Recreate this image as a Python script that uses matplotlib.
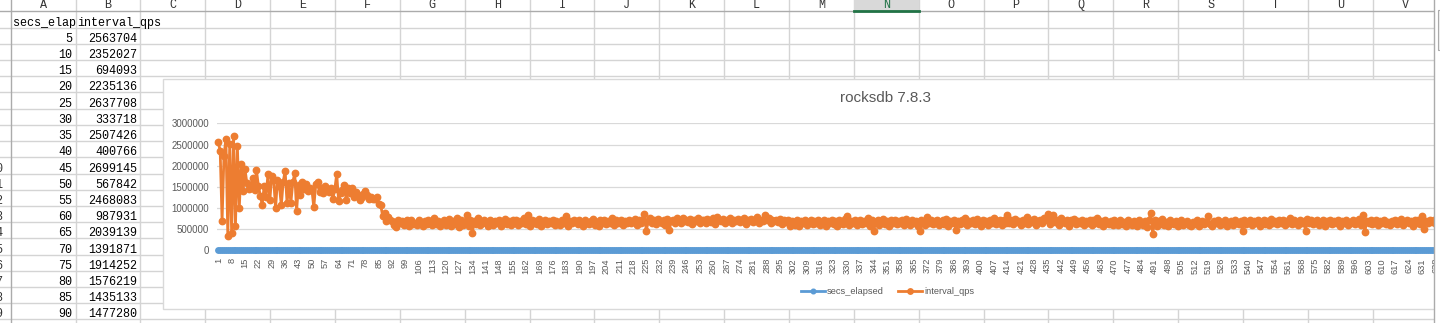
import matplotlib
matplotlib.use("Agg")
import matplotlib.pyplot as plt
from matplotlib.patches import Rectangle

W, H = 1440, 323

# column A of the sheet (secs_elapsed)
secs_elapsed = [
    5, 10, 15, 20, 25, 30, 35, 40, 45, 50, 55, 60, 65, 70, 75, 80, 85, 90, 95, 100,
    105, 110, 115, 120, 125, 130, 135, 140, 145, 150, 155, 160, 165, 170, 175, 180, 185, 190, 195, 200,
    205, 210, 215, 220, 225, 230, 235, 240, 245, 250, 255, 260, 265, 270, 275, 280, 285, 290, 295, 300,
    305, 310, 315, 320, 325, 330, 335, 340, 345, 350, 355, 360, 365, 370, 375, 380, 385, 390, 395, 400,
    405, 410, 415, 420, 425, 430, 435, 440, 445, 450, 455, 460, 465, 470, 475, 480, 485, 490, 495, 500,
    505, 510, 515, 520, 525, 530, 535, 540, 545, 550, 555, 560, 565, 570, 575, 580, 585, 590, 595, 600,
    605, 610, 615, 620, 625, 630, 635, 640, 645, 650, 655, 660, 665, 670, 675, 680, 685, 690, 695, 700,
    705, 710, 715, 720, 725, 730, 735, 740, 745, 750, 755, 760, 765, 770, 775, 780, 785, 790, 795, 800,
    805, 810, 815, 820, 825, 830, 835, 840, 845, 850, 855, 860, 865, 870, 875, 880, 885, 890, 895, 900,
    905, 910, 915, 920, 925, 930, 935, 940, 945, 950, 955, 960, 965, 970, 975, 980, 985, 990, 995, 1000,
    1005, 1010, 1015, 1020, 1025, 1030, 1035, 1040, 1045, 1050, 1055, 1060, 1065, 1070, 1075, 1080, 1085, 1090, 1095, 1100,
    1105, 1110, 1115, 1120, 1125, 1130, 1135, 1140, 1145, 1150, 1155, 1160, 1165, 1170, 1175, 1180, 1185, 1190, 1195, 1200,
    1205, 1210, 1215, 1220, 1225, 1230, 1235, 1240, 1245, 1250, 1255, 1260, 1265, 1270, 1275, 1280, 1285, 1290, 1295, 1300,
    1305, 1310, 1315, 1320, 1325, 1330, 1335, 1340, 1345, 1350, 1355, 1360, 1365, 1370, 1375, 1380, 1385, 1390, 1395, 1400,
    1405, 1410, 1415, 1420, 1425, 1430, 1435, 1440, 1445, 1450, 1455, 1460, 1465, 1470, 1475, 1480, 1485, 1490, 1495, 1500,
    1505, 1510, 1515, 1520, 1525, 1530, 1535, 1540, 1545, 1550, 1555, 1560, 1565, 1570, 1575, 1580, 1585, 1590, 1595, 1600,
    1605, 1610, 1615, 1620, 1625, 1630, 1635, 1640, 1645, 1650, 1655, 1660, 1665, 1670, 1675, 1680, 1685, 1690, 1695, 1700,
    1705, 1710, 1715, 1720, 1725, 1730, 1735, 1740, 1745, 1750, 1755, 1760, 1765, 1770, 1775, 1780, 1785, 1790, 1795, 1800,
    1805, 1810, 1815, 1820, 1825, 1830, 1835, 1840, 1845, 1850, 1855, 1860, 1865, 1870, 1875, 1880, 1885, 1890, 1895, 1900,
    1905, 1910, 1915, 1920, 1925, 1930, 1935, 1940, 1945, 1950, 1955, 1960, 1965, 1970, 1975, 1980, 1985, 1990, 1995, 2000,
    2005, 2010, 2015, 2020, 2025, 2030, 2035, 2040, 2045, 2050, 2055, 2060, 2065, 2070, 2075, 2080, 2085, 2090, 2095, 2100,
    2105, 2110, 2115, 2120, 2125, 2130, 2135, 2140, 2145, 2150, 2155, 2160, 2165, 2170, 2175, 2180, 2185, 2190, 2195, 2200,
    2205, 2210, 2215, 2220, 2225, 2230, 2235, 2240, 2245, 2250, 2255, 2260, 2265, 2270, 2275, 2280, 2285, 2290, 2295, 2300,
    2305, 2310, 2315, 2320, 2325, 2330, 2335, 2340, 2345, 2350, 2355, 2360, 2365, 2370, 2375, 2380, 2385, 2390, 2395, 2400,
    2405, 2410, 2415, 2420, 2425, 2430, 2435, 2440, 2445, 2450, 2455, 2460, 2465, 2470, 2475, 2480, 2485, 2490, 2495, 2500,
    2505, 2510, 2515, 2520, 2525, 2530, 2535, 2540, 2545, 2550, 2555, 2560, 2565, 2570, 2575, 2580, 2585, 2590, 2595, 2600,
    2605, 2610, 2615, 2620, 2625, 2630, 2635, 2640, 2645, 2650, 2655, 2660, 2665, 2670, 2675, 2680, 2685, 2690, 2695, 2700,
    2705, 2710, 2715, 2720, 2725, 2730, 2735, 2740, 2745, 2750, 2755, 2760, 2765, 2770, 2775, 2780, 2785, 2790, 2795, 2800,
    2805, 2810, 2815, 2820, 2825, 2830, 2835, 2840, 2845, 2850, 2855, 2860, 2865, 2870, 2875, 2880, 2885, 2890, 2895, 2900,
    2905, 2910, 2915, 2920, 2925, 2930, 2935, 2940, 2945, 2950, 2955, 2960, 2965, 2970, 2975, 2980, 2985, 2990, 2995, 3000,
    3005, 3010, 3015, 3020, 3025, 3030, 3035, 3040, 3045, 3050, 3055, 3060, 3065, 3070, 3075, 3080, 3085, 3090, 3095, 3100,
    3105, 3110, 3115, 3120, 3125, 3130, 3135, 3140, 3145, 3150, 3155, 3160, 3165, 3170, 3175, 3180, 3185, 3190, 3195, 3200,
]

# column B, rows visible in the sheet
qps_table = [2563704, 2352027, 694093, 2235136, 2637708, 333718, 2507426, 400766, 2699145,
             567842, 2468083, 987931, 2039139, 1391871, 1914252, 1576219, 1435133, 1477280]

# rest of interval_qps (thousands)
qps_rest_k = [
    1700, 1420, 1890, 1520, 1290, 1070, 1510, 1260, 1790, 1180, 1760, 1660, 990, 1670, 1510, 1060, 1620,
    1880, 1110, 1580, 1120, 1600, 1820, 930, 1550, 1300, 1600, 1440, 1560, 1400, 1480, 1430, 1010, 1560,
    1600, 1380, 1470, 1350, 1510, 1440, 1380, 1470, 1210, 1450, 1800, 1150, 1350, 1410, 1540, 1180, 1460,
    1340, 1460, 1260, 1380, 1310, 1180, 1250, 1320, 1390, 1300, 1220, 1250, 1200, 1210, 1260, 1080, 1070,
    810, 880, 690, 790, 720, 680, 590, 540, 700,
    640, 690, 600, 660, 720, 580, 700, 620, 650, 590, 710, 640, 560, 680, 620, 700, 650, 600, 760, 620,
    690, 580, 640, 700, 600, 660, 730, 560, 680, 620, 760, 540, 700, 600, 650, 820, 560, 720, 410, 680,
    620, 760, 590, 650, 700, 630, 580, 720, 660, 600, 690, 640, 710, 570, 650, 740, 620, 680, 600, 700,
    650, 720, 590, 680, 630, 760, 610, 830, 560, 700, 640, 690, 620, 740, 580, 660, 700, 620, 690, 640,
    710, 600, 680, 650, 590, 720, 640, 800, 560, 690, 630, 700, 660, 610, 720, 640, 580, 700, 650, 620,
    690, 740, 600, 660, 560, 700, 640, 720, 610, 680, 650, 760, 590, 700, 640, 670, 720, 600, 690, 650,
    710, 630, 680, 740, 600, 700, 650, 720, 860, 450, 690, 760, 640, 700, 620, 740, 680, 650, 710, 600,
    730, 470, 680, 720, 650, 760, 700, 640, 750, 690, 720, 660, 740, 610, 700, 680, 760, 650, 720, 700,
    640, 730, 690, 660, 750, 620, 790, 700, 680, 740, 650, 720, 690, 760, 640, 710, 680, 730, 660, 700,
    750, 620, 720, 690, 740, 660, 700, 780, 640, 720, 690, 830, 700, 750, 640, 720, 680, 700, 660, 740,
    620, 700, 660, 720, 580, 690, 650, 600, 710, 560, 680, 640, 700, 590, 660, 720, 610, 680, 640, 700,
    600, 670, 720, 580, 690, 640, 700, 620, 680, 560, 700, 650, 620, 740, 810, 600, 680, 640, 700, 590,
    660, 720, 610, 690, 640, 760, 580, 700, 450, 660, 720, 600, 680, 740, 620, 690, 560, 700, 650, 720,
    610, 680, 640, 700, 590, 730, 650, 600, 700, 640, 690, 560, 460, 720, 650, 600, 790, 640, 700, 620,
    680, 720, 590, 660, 700, 620, 740, 580, 690, 650, 720, 470, 680, 620, 700, 650, 760, 600, 690, 640,
    700, 620, 740, 660, 580, 720, 640, 690, 600, 710, 650, 760, 620, 680, 700, 590, 720, 650, 830, 640,
    700, 620, 740, 660, 690, 600, 720, 650, 780, 610, 700, 660, 740, 590, 680, 720, 640, 760, 700, 860,
    620, 700, 840, 660, 720, 600, 760, 680, 640, 720, 580, 700, 660, 740, 620, 690, 640, 710, 600, 680,
    650, 720, 590, 700, 640, 760, 620, 680, 560, 700, 650, 620, 690, 600, 720, 640, 590, 700, 620, 660,
    580, 700, 640, 600, 680, 620, 560, 700, 650, 600, 680, 540, 720, 880, 380, 700, 560, 680, 620, 740,
    600, 660, 580, 700, 640, 620, 680, 560, 650, 700, 590, 640, 680, 600, 560, 660, 620, 700, 580, 640,
    690, 610, 660, 800, 620, 580, 680, 640, 700, 600, 660, 620, 700, 580, 650, 690, 600, 720, 640, 610,
    680, 440, 700, 620, 660, 720, 600, 680, 640, 700, 580, 660, 720, 620, 680, 600, 740, 640, 690, 610,
    700, 650, 720, 600, 680, 640, 760, 620, 700, 660, 590, 720, 640, 680, 450, 740, 650, 700, 620, 680,
    720, 600, 660, 700, 580, 690, 640, 720, 610, 680, 650, 700, 560, 680, 640, 720, 600, 670, 640, 700,
    620, 680, 740, 600, 830, 420, 690, 640, 700, 620, 660, 720, 590, 680, 640, 700, 620, 660, 600, 690,
    650, 700, 620, 680, 740, 600, 660, 720, 640, 690, 580, 700, 650, 720, 610, 800, 500, 690, 640, 700,
    660, 720, 620, 690, 650,
]

interval_qps = qps_table + [v * 1000 for v in qps_rest_k]
n = min(len(secs_elapsed), len(interval_qps))
secs_elapsed = secs_elapsed[:n]
interval_qps = interval_qps[:n]
categories = list(range(1, n + 1))

col_letters = list("ABCDEFGHIJKLMNOPQRSTUV")
y_ticks = [0, 500000, 1000000, 1500000, 2000000, 2500000, 3000000]
title = "rocksdb 7.8.3"

BLUE = "#5B9BD5"
ORANGE = "#ED7D31"
TXT = "#595959"
GRID = "#D4D4D4"
SANS = ["Liberation Sans", "DejaVu Sans"]
MONO = ["Liberation Mono", "DejaVu Sans Mono"]

# sheet geometry (pixels)
col_x0, col_w = 10.7, 64.86
hdr_bot, row_h = 11.3, 16.22

fig = plt.figure(figsize=(W / 100, H / 100), dpi=100)
fig.patch.set_facecolor("white")

bg = fig.add_axes([0, 0, 1, 1])
bg.set_xlim(0, W)
bg.set_ylim(H, 0)
bg.axis("off")

# grid of cells
for k in range(1, len(col_letters) + 1):
    x = col_x0 + col_w * k
    bg.plot([x, x], [0, H], color=GRID, lw=1, zorder=1)
for r in range(1, 20):
    y = hdr_bot + row_h * r
    bg.plot([0, 1434], [y, y], color=GRID, lw=1, zorder=1)
bg.plot([0, 1434], [hdr_bot, hdr_bot], color="#ABABAB", lw=1, zorder=2)
bg.plot([col_x0, col_x0], [0, H], color="#ABABAB", lw=1, zorder=2)

# column headers
sel = col_letters.index("N")
bg.add_patch(Rectangle((col_x0 + col_w * sel, 0), col_w, hdr_bot, fc="#D9D9D9", ec="none", zorder=1.5))
bg.plot([col_x0 + col_w * sel, col_x0 + col_w * (sel + 1)], [hdr_bot - 0.5, hdr_bot - 0.5],
        color="#217346", lw=2, zorder=3)
for i, c in enumerate(col_letters):
    bg.text(col_x0 + col_w * (i + 0.5), 8.3, c, ha="center", va="baseline", fontsize=8.5,
            family=MONO, color="#217346" if i == sel else "#333333", zorder=3)

# row numbers (mostly hidden left of the window)
for r in range(1, 20):
    base = hdr_bot + row_h * r - 2
    bg.text(-4, base, str(r), ha="center", va="baseline", fontsize=8.5, family=MONO, color="#333333")

# cell contents
base1 = hdr_bot + row_h - 2
t = bg.text(col_x0 + 1.8, base1, "secs_elapsed", ha="left", va="baseline", fontsize=8.5,
            family=MONO, color="black", zorder=3, clip_on=True)
t.set_clip_path(Rectangle((col_x0, hdr_bot), col_w, row_h, transform=bg.transData))
bg.text(col_x0 + col_w + 1.2, base1, "interval_qps", ha="left", va="baseline", fontsize=8.5,
        family=MONO, color="black", zorder=3)
for r in range(len(qps_table)):
    base = hdr_bot + row_h * (r + 2) - 2
    bg.text(col_x0 + col_w - 3, base, str(secs_elapsed[r]), ha="right", va="baseline",
            fontsize=8.5, family=MONO, color="black", zorder=3)
    bg.text(col_x0 + 2 * col_w - 3.3, base, str(qps_table[r]), ha="right", va="baseline",
            fontsize=8.5, family=MONO, color="black", zorder=3)

# chart frame
bg.add_patch(Rectangle((163.3, 79), 1400, 230.3, fc="white", ec="#D9D9D9", lw=1, zorder=5))
bg.text(885.3, 98.3, title, ha="center", va="center", fontsize=11, family=SANS, color=TXT, zorder=6)

# plot area
px_left, px_right = 217.3, 1440.3
px_top, px_bot = 123.4, 250.0
ax = fig.add_axes([px_left / W, 1 - px_bot / H, (px_right - px_left) / W, (px_bot - px_top) / H])
ax.set_facecolor("none")
for s in ax.spines.values():
    s.set_visible(False)
ax.set_xlim(0.5, n + 0.5)
ax.set_ylim(0, 3000000)
ax.set_yticks(y_ticks)
ax.set_yticklabels([str(v) for v in y_ticks], fontsize=7, family=SANS, color=TXT)
ax.yaxis.grid(True, color="#D9D9D9", lw=0.9)
ax.set_axisbelow(True)
ax.set_xticks(categories[::7])
ax.set_xticklabels([str(c) for c in categories[::7]], rotation=90, fontsize=6.7, family=SANS, color=TXT)
ax.tick_params(axis="y", length=0, pad=6)
ax.tick_params(axis="x", length=0, pad=5.8)

l1, = ax.plot(categories, secs_elapsed, color=BLUE, lw=2, marker="o", ms=3.9, clip_on=False,
              zorder=3, label="secs_elapsed")
l2, = ax.plot(categories, interval_qps, color=ORANGE, lw=2.0, marker="o", ms=4.6, clip_on=False,
              zorder=4, label="interval_qps")

fig.legend(handles=[l1, l2], loc="center", bbox_to_anchor=(887.5 / W, 1 - 291.7 / H), ncol=2,
           frameon=False, prop={"family": SANS, "size": 6.7}, labelcolor=TXT, handlelength=2.6,
           handletextpad=0.25, columnspacing=1.5, numpoints=1, markerscale=0.85)

# window edge / scrollbar
fg = fig.add_axes([0, 0, 1, 1], zorder=10)
fg.set_xlim(0, W)
fg.set_ylim(H, 0)
fg.axis("off")
fg.patch.set_visible(False)
fg.add_patch(Rectangle((1434.3, 0), 10, H, fc="white", ec="none"))
fg.plot([1434.3, 1434.3], [0, H], color="#ABABAB", lw=1)
fg.add_patch(Rectangle((1437.5, 10), 6, 40, fc="#F0F0F0", ec="#ABABAB", lw=0.8))

fig.savefig("out.png", dpi=100)
